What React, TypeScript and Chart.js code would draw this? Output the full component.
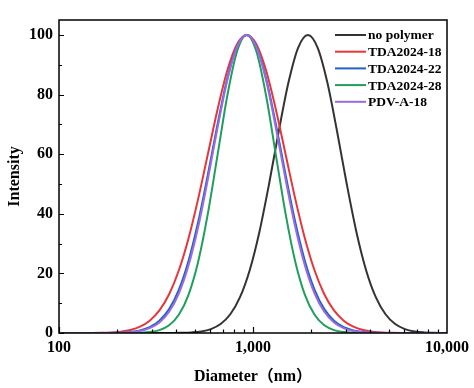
import React, { useEffect, useRef } from "react";
import { Chart, registerables } from "chart.js";

Chart.register(...registerables);

// Diameter grid (nm) for the four polymer curves
const diametersA = [100, 147.1, 165.0, 185.2, 207.8, 233.1, 261.6, 293.5, 329.3, 369.5, 414.5, 465.1, 521.9, 585.5, 657.0, 737.1, 827.1, 928.0, 1041.2, 1168.3, 1310.8, 1470.8, 1650.3, 1851.7, 2077.6, 2331.1, 2615.6, 2934.7, 3292.8, 3694.6, 4145.5, 4651.3, 5218.9, 5855.7, 10000];
// Diameter grid (nm) for the no-polymer curve
const diametersB = [100, 382.8, 429.5, 481.9, 540.7, 606.7, 680.7, 763.8, 857.0, 961.6, 1078.9, 1210.6, 1358.3, 1524.0, 1710.0, 1918.6, 2152.7, 2415.4, 2710.1, 3040.8, 3411.8, 3828.1, 4295.2, 4819.3, 5407.4, 6067.2, 6807.5, 7638.2, 8570.2, 9616, 10000];

const noPolymer = [0, 0.02, 0.07, 0.2, 0.53, 1.32, 3.01, 6.28, 12.01, 21.08, 33.91, 50.06, 67.76, 84.11, 95.77, 100, 95.77, 84.11, 67.76, 50.06, 33.91, 21.08, 12.01, 6.28, 3.01, 1.32, 0.53, 0.2, 0.07, 0.02, 0];
const tda18 = [0, 0.03, 0.08, 0.19, 0.46, 1.01, 2.11, 4.12, 7.56, 13.0, 20.97, 31.73, 45.07, 60.04, 75.06, 88.03, 96.86, 100, 96.86, 88.03, 75.06, 60.04, 45.07, 31.73, 20.97, 13.0, 7.56, 4.12, 2.11, 1.01, 0.46, 0.19, 0.08, 0.03, 0];
const tda22 = [0, 0, 0.01, 0.04, 0.13, 0.34, 0.85, 1.94, 4.1, 8.01, 14.47, 24.17, 37.3, 53.2, 70.12, 85.4, 96.13, 100, 96.13, 85.4, 70.12, 53.2, 37.3, 24.17, 14.47, 8.01, 4.1, 1.94, 0.85, 0.34, 0.13, 0.04, 0.01, 0, 0];
const tda28 = [0, 0, 0, 0, 0, 0.03, 0.1, 0.33, 0.98, 2.59, 6.1, 12.81, 24.01, 40.13, 59.83, 79.59, 94.45, 100, 94.45, 79.59, 59.83, 40.13, 24.01, 12.81, 6.1, 2.59, 0.98, 0.33, 0.1, 0.03, 0, 0, 0, 0, 0];
const pdvA18 = [0, 0, 0, 0.03, 0.09, 0.26, 0.68, 1.61, 3.53, 7.12, 13.22, 22.62, 35.62, 51.65, 68.96, 84.77, 95.96, 100, 95.96, 84.77, 68.96, 51.65, 35.62, 22.62, 13.22, 7.12, 3.53, 1.61, 0.68, 0.26, 0.09, 0.03, 0, 0, 0];

const seriesLabels = ["no polymer", "TDA2024-18", "TDA2024-22", "TDA2024-28", "PDV-A-18"];
const seriesColors = ["#333333", "#e8353a", "#2162c9", "#1f9e5c", "#9a6ae0"];

const xMajorTicks = [100, 1000, 10000];
const yMajorTicks = [0, 20, 40, 60, 80, 100];
const yMinorTicks = [10, 30, 50, 70, 90];

const SERIF = "'Liberation Serif', 'Times New Roman', 'Noto Sans CJK SC', serif";

const toXY = (xs: number[], ys: number[]) => xs.map((x, i) => ({ x, y: ys[i] }));

const framePlugin = {
  id: "frameTicks",
  afterDraw(chart: any) {
    const { ctx, chartArea } = chart;
    const xs = chart.scales.x;
    const ys = chart.scales.y;
    ctx.save();
    ctx.strokeStyle = "#000";
    ctx.lineWidth = 1.5;
    ctx.strokeRect(chartArea.left, chartArea.top, chartArea.right - chartArea.left, chartArea.bottom - chartArea.top);
    ctx.lineWidth = 1.2;
    ctx.beginPath();
    // x ticks inward
    for (let dec = 100; dec < 10000; dec *= 10) {
      for (let m = 1; m <= 9; m++) {
        const v = dec * m;
        const px = Math.round(xs.getPixelForValue(v)) + 0.5;
        const len = m === 1 ? 6 : 3.5;
        ctx.moveTo(px, chartArea.bottom);
        ctx.lineTo(px, chartArea.bottom - len);
      }
    }
    // y ticks inward
    yMajorTicks.forEach((v) => {
      const py = Math.round(ys.getPixelForValue(v)) + 0.5;
      ctx.moveTo(chartArea.left, py);
      ctx.lineTo(chartArea.left + 5, py);
    });
    yMinorTicks.forEach((v) => {
      const py = Math.round(ys.getPixelForValue(v)) + 0.5;
      ctx.moveTo(chartArea.left, py);
      ctx.lineTo(chartArea.left + 3, py);
    });
    ctx.stroke();

    // legend
    const lx0 = 335;
    const lx1 = 366;
    const ty0 = 35;
    const step = 16.7;
    ctx.font = `bold 13.5px ${SERIF}`;
    ctx.textBaseline = "middle";
    ctx.textAlign = "left";
    chart.data.datasets.forEach((ds: any, i: number) => {
      const y = ty0 + i * step;
      ctx.strokeStyle = ds.borderColor;
      ctx.lineWidth = 2;
      ctx.beginPath();
      ctx.moveTo(lx0, y);
      ctx.lineTo(lx1, y);
      ctx.stroke();
      ctx.fillStyle = "#000";
      ctx.fillText(ds.label, lx1 + 2, y + 1);
    });
    ctx.restore();
  },
};

export default function App() {
  const ref = useRef<HTMLCanvasElement | null>(null);
  useEffect(() => {
    if (!ref.current) return;
    const dataSets = [
      toXY(diametersB, noPolymer),
      toXY(diametersA, tda18),
      toXY(diametersA, tda22),
      toXY(diametersA, tda28),
      toXY(diametersA, pdvA18),
    ];
    const chart = new Chart(ref.current, {
      type: "line",
      data: {
        datasets: dataSets.map((d, i) => ({
          label: seriesLabels[i],
          data: d,
          borderColor: seriesColors[i],
          backgroundColor: seriesColors[i],
          borderWidth: 2,
          pointRadius: 0,
          fill: false,
          cubicInterpolationMode: "monotone" as const,
          order: 5 - i,
        })),
      },
      options: {
        responsive: false,
        animation: false,
        devicePixelRatio: 1,
        layout: { padding: { left: 0, right: 27, top: 20, bottom: 0 } },
        plugins: { legend: { display: false }, tooltip: { enabled: false } },
        scales: {
          x: {
            type: "logarithmic",
            min: 100,
            max: 10000,
            grid: { display: false, drawTicks: false },
            border: { display: false },
            afterBuildTicks: (s: any) => {
              s.ticks = xMajorTicks.map((v) => ({ value: v }));
            },
            afterFit: (s: any) => {
              s.height = 55;
            },
            ticks: {
              autoSkip: false,
              maxRotation: 0,
              padding: 5,
              color: "#000",
              font: { family: SERIF, size: 16, weight: "bold" },
              callback: (v: any) => Number(v).toLocaleString("en-US"),
            },
            title: {
              display: true,
              text: "Diameter（nm）",
              color: "#000",
              font: { family: SERIF, size: 16, weight: "bold" },
              padding: { top: 0, bottom: 2 },
            },
          },
          y: {
            type: "linear",
            min: 0,
            max: 105,
            grid: { display: false, drawTicks: false },
            border: { display: false },
            afterBuildTicks: (s: any) => {
              s.ticks = yMajorTicks.map((v) => ({ value: v }));
            },
            afterFit: (s: any) => {
              s.width = 59;
            },
            ticks: {
              padding: 6,
              color: "#000",
              font: { family: SERIF, size: 16, weight: "bold" },
            },
            title: {
              display: true,
              text: "Intensity",
              color: "#000",
              font: { family: SERIF, size: 16, weight: "bold" },
              padding: { top: 5, bottom: 0 },
            },
          },
        },
      },
      plugins: [framePlugin],
    });
    return () => chart.destroy();
  }, []);
  return (
    <div style={{ position: "absolute", left: 0, top: 0, width: 474, height: 388, background: "#fff" }}>
      <canvas ref={ref} width={474} height={388} />
    </div>
  );
}
